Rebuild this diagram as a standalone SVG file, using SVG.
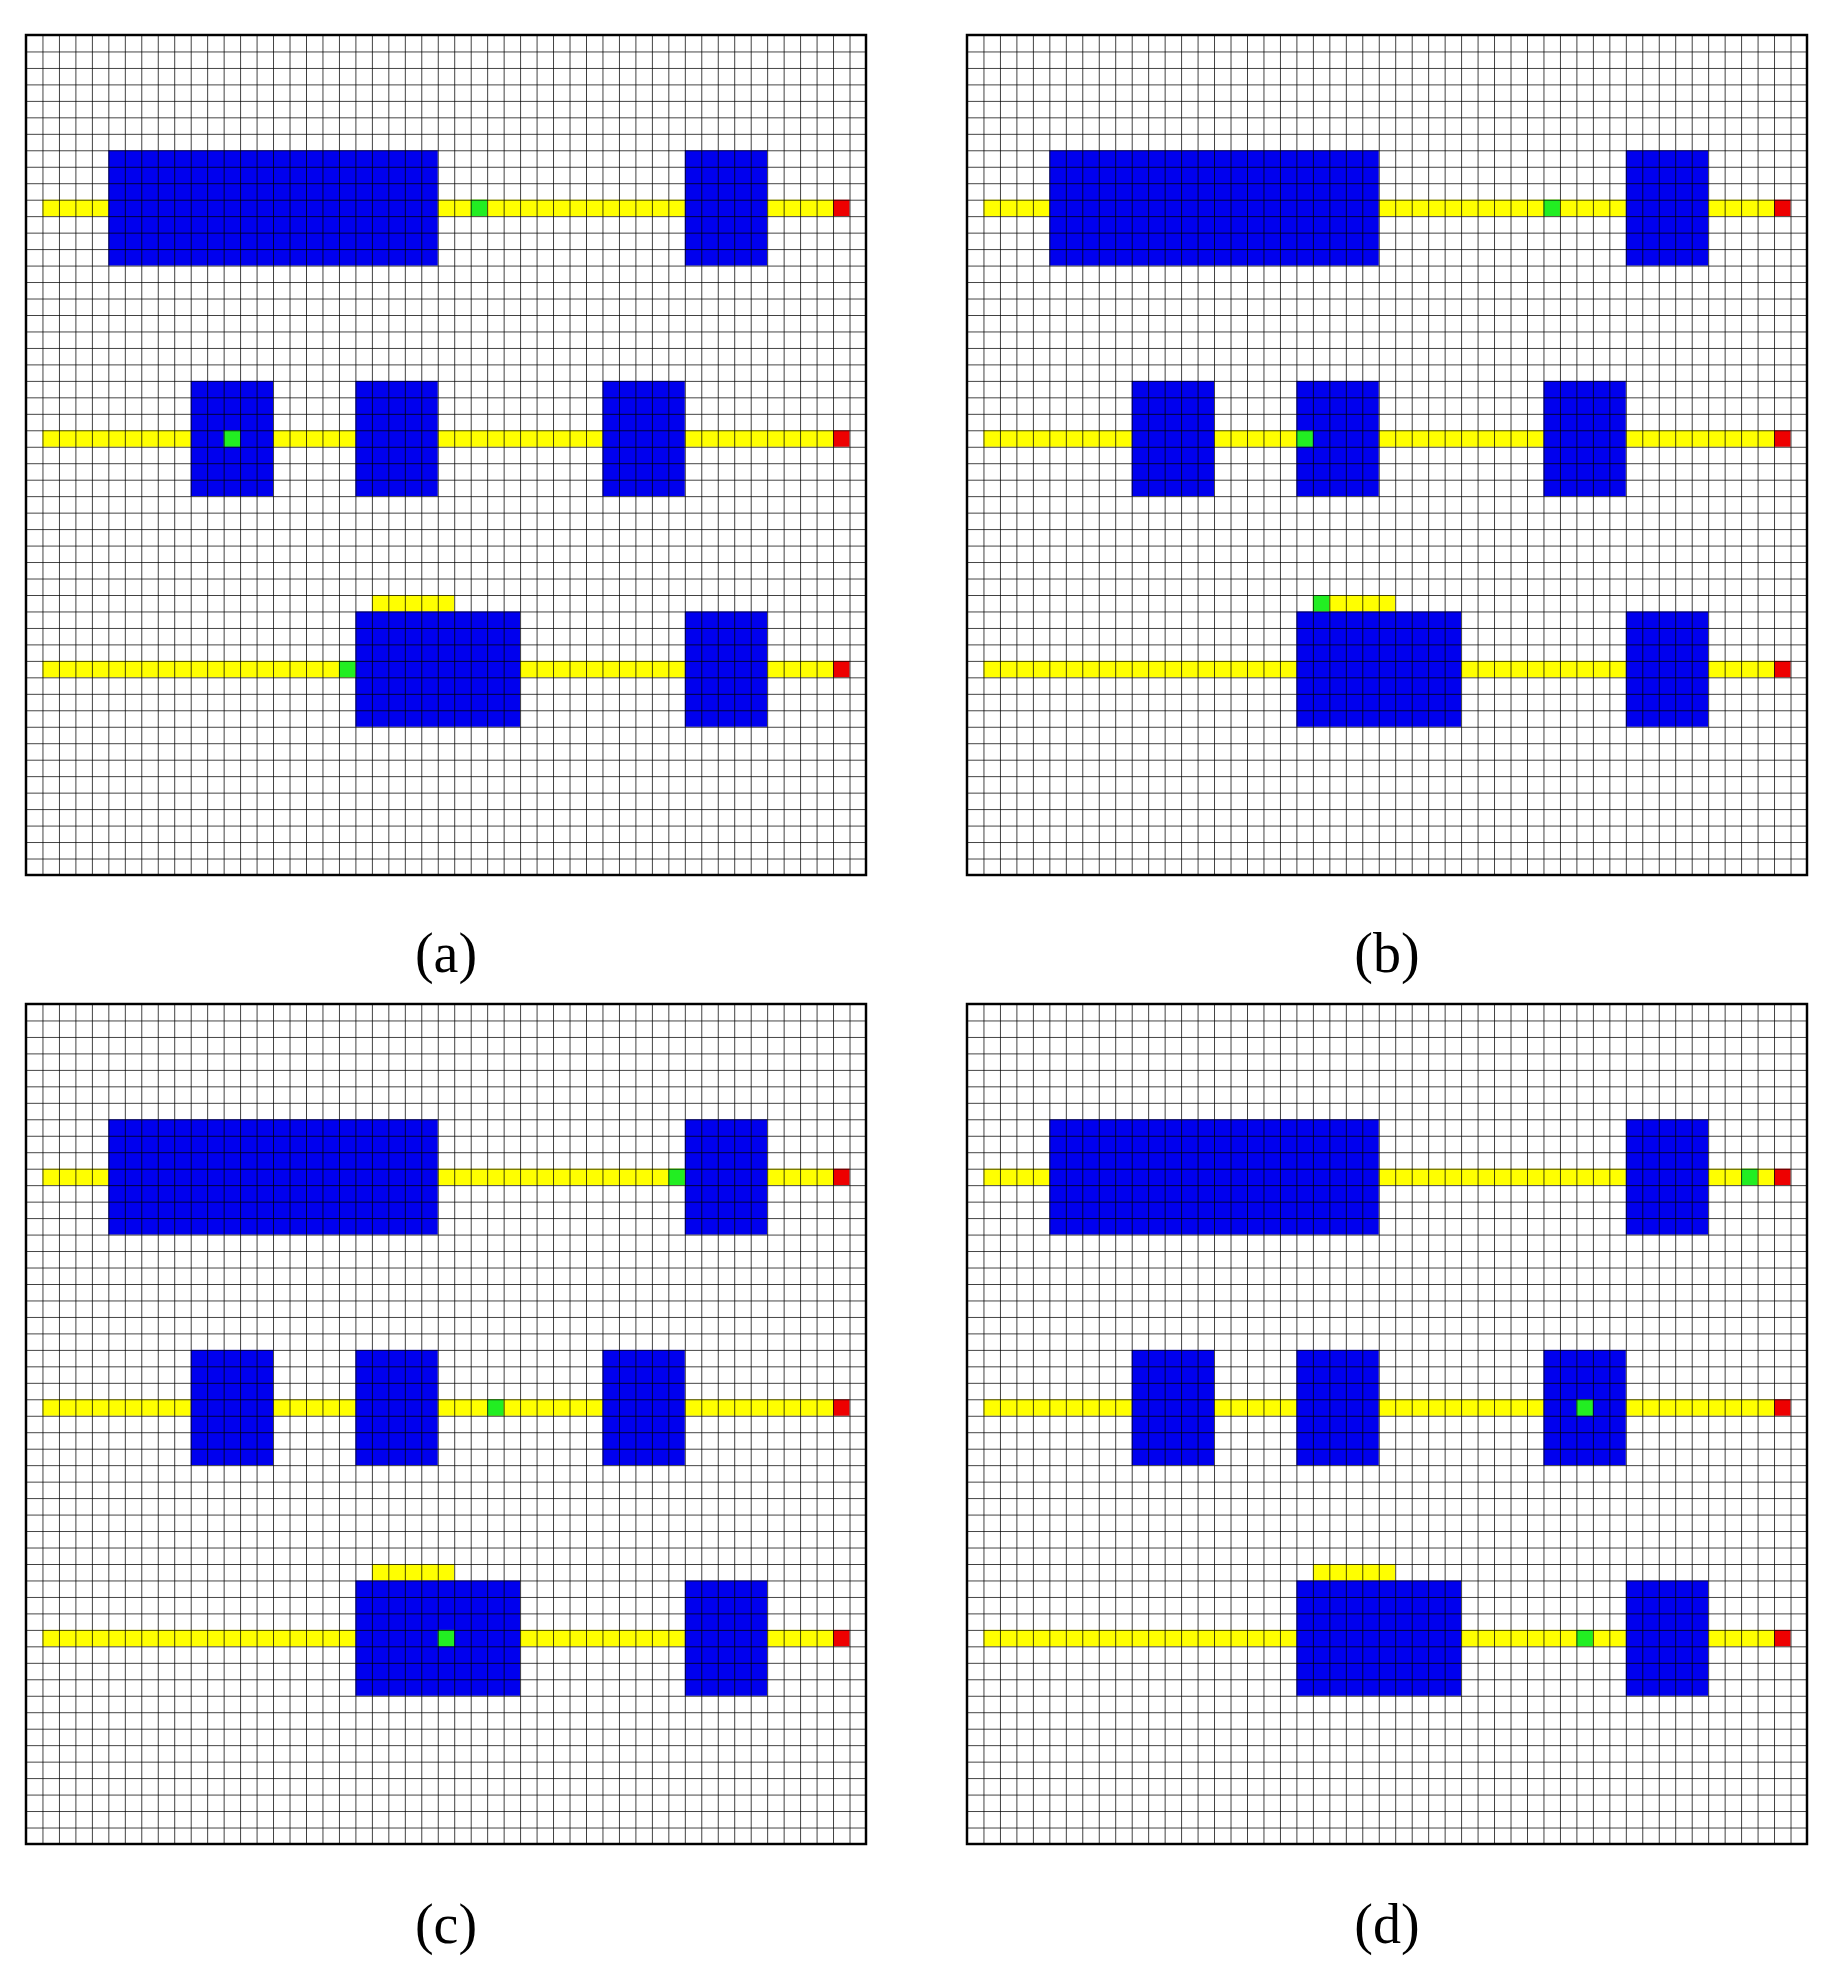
<svg xmlns="http://www.w3.org/2000/svg" width="1838" height="1985" viewBox="0 0 1838 1985">
<style>
.y{fill:#ffff00}.b{fill:#0000ee}.r{fill:#ee0000}.g{fill:#22ee22}
.lbl{font-family:"Liberation Serif",serif;font-size:56px;text-anchor:middle;fill:#000}
</style>
<defs>
<pattern id="grid" patternUnits="userSpaceOnUse" width="1" height="1">
<path d="M0 0H1M0 0V1" stroke="#000" stroke-width="0.09" fill="none"/>
</pattern>
<g id="base">
<rect width="51" height="51" fill="#fff"/>
<rect class="y" x="1" y="10" width="48" height="1"/>
<rect class="y" x="1" y="24" width="48" height="1"/>
<rect class="y" x="1" y="38" width="48" height="1"/>
<rect class="y" x="21" y="34" width="5" height="1"/>
<rect class="b" x="5" y="7" width="20" height="7"/>
<rect class="b" x="40" y="7" width="5" height="7"/>
<rect class="b" x="10" y="21" width="5" height="7"/>
<rect class="b" x="20" y="21" width="5" height="7"/>
<rect class="b" x="35" y="21" width="5" height="7"/>
<rect class="b" x="20" y="35" width="10" height="7"/>
<rect class="b" x="40" y="35" width="5" height="7"/>
<rect class="r" x="49" y="10" width="1" height="1"/>
<rect class="r" x="49" y="24" width="1" height="1"/>
<rect class="r" x="49" y="38" width="1" height="1"/>
</g>
<g id="over">
<rect width="51" height="51" fill="url(#grid)"/>
<rect width="51" height="51" fill="none" stroke="#000" stroke-width="0.15"/>
</g>
</defs>
<rect width="1838" height="1985" fill="#fff"/>
<g id="panel-a" transform="translate(26,35) scale(16.4706)">
<use href="#base"/>
<rect class="g" x="27" y="10" width="1" height="1"/>
<rect class="g" x="12" y="24" width="1" height="1"/>
<rect class="g" x="19" y="38" width="1" height="1"/>
<use href="#over"/>
</g>
<g id="panel-b" transform="translate(967,35) scale(16.4706)">
<use href="#base"/>
<rect class="g" x="35" y="10" width="1" height="1"/>
<rect class="g" x="20" y="24" width="1" height="1"/>
<rect class="g" x="21" y="34" width="1" height="1"/>
<use href="#over"/>
</g>
<g id="panel-c" transform="translate(26,1004) scale(16.4706)">
<use href="#base"/>
<rect class="g" x="39" y="10" width="1" height="1"/>
<rect class="g" x="28" y="24" width="1" height="1"/>
<rect class="g" x="25" y="38" width="1" height="1"/>
<use href="#over"/>
</g>
<g id="panel-d" transform="translate(967,1004) scale(16.4706)">
<use href="#base"/>
<rect class="g" x="47" y="10" width="1" height="1"/>
<rect class="g" x="37" y="24" width="1" height="1"/>
<rect class="g" x="37" y="38" width="1" height="1"/>
<use href="#over"/>
</g>
<g id="labels">
<text class="lbl" x="446" y="972">(a)</text>
<text class="lbl" x="1387" y="972">(b)</text>
<text class="lbl" x="446" y="1943">(c)</text>
<text class="lbl" x="1387" y="1943">(d)</text>
</g>
</svg>
